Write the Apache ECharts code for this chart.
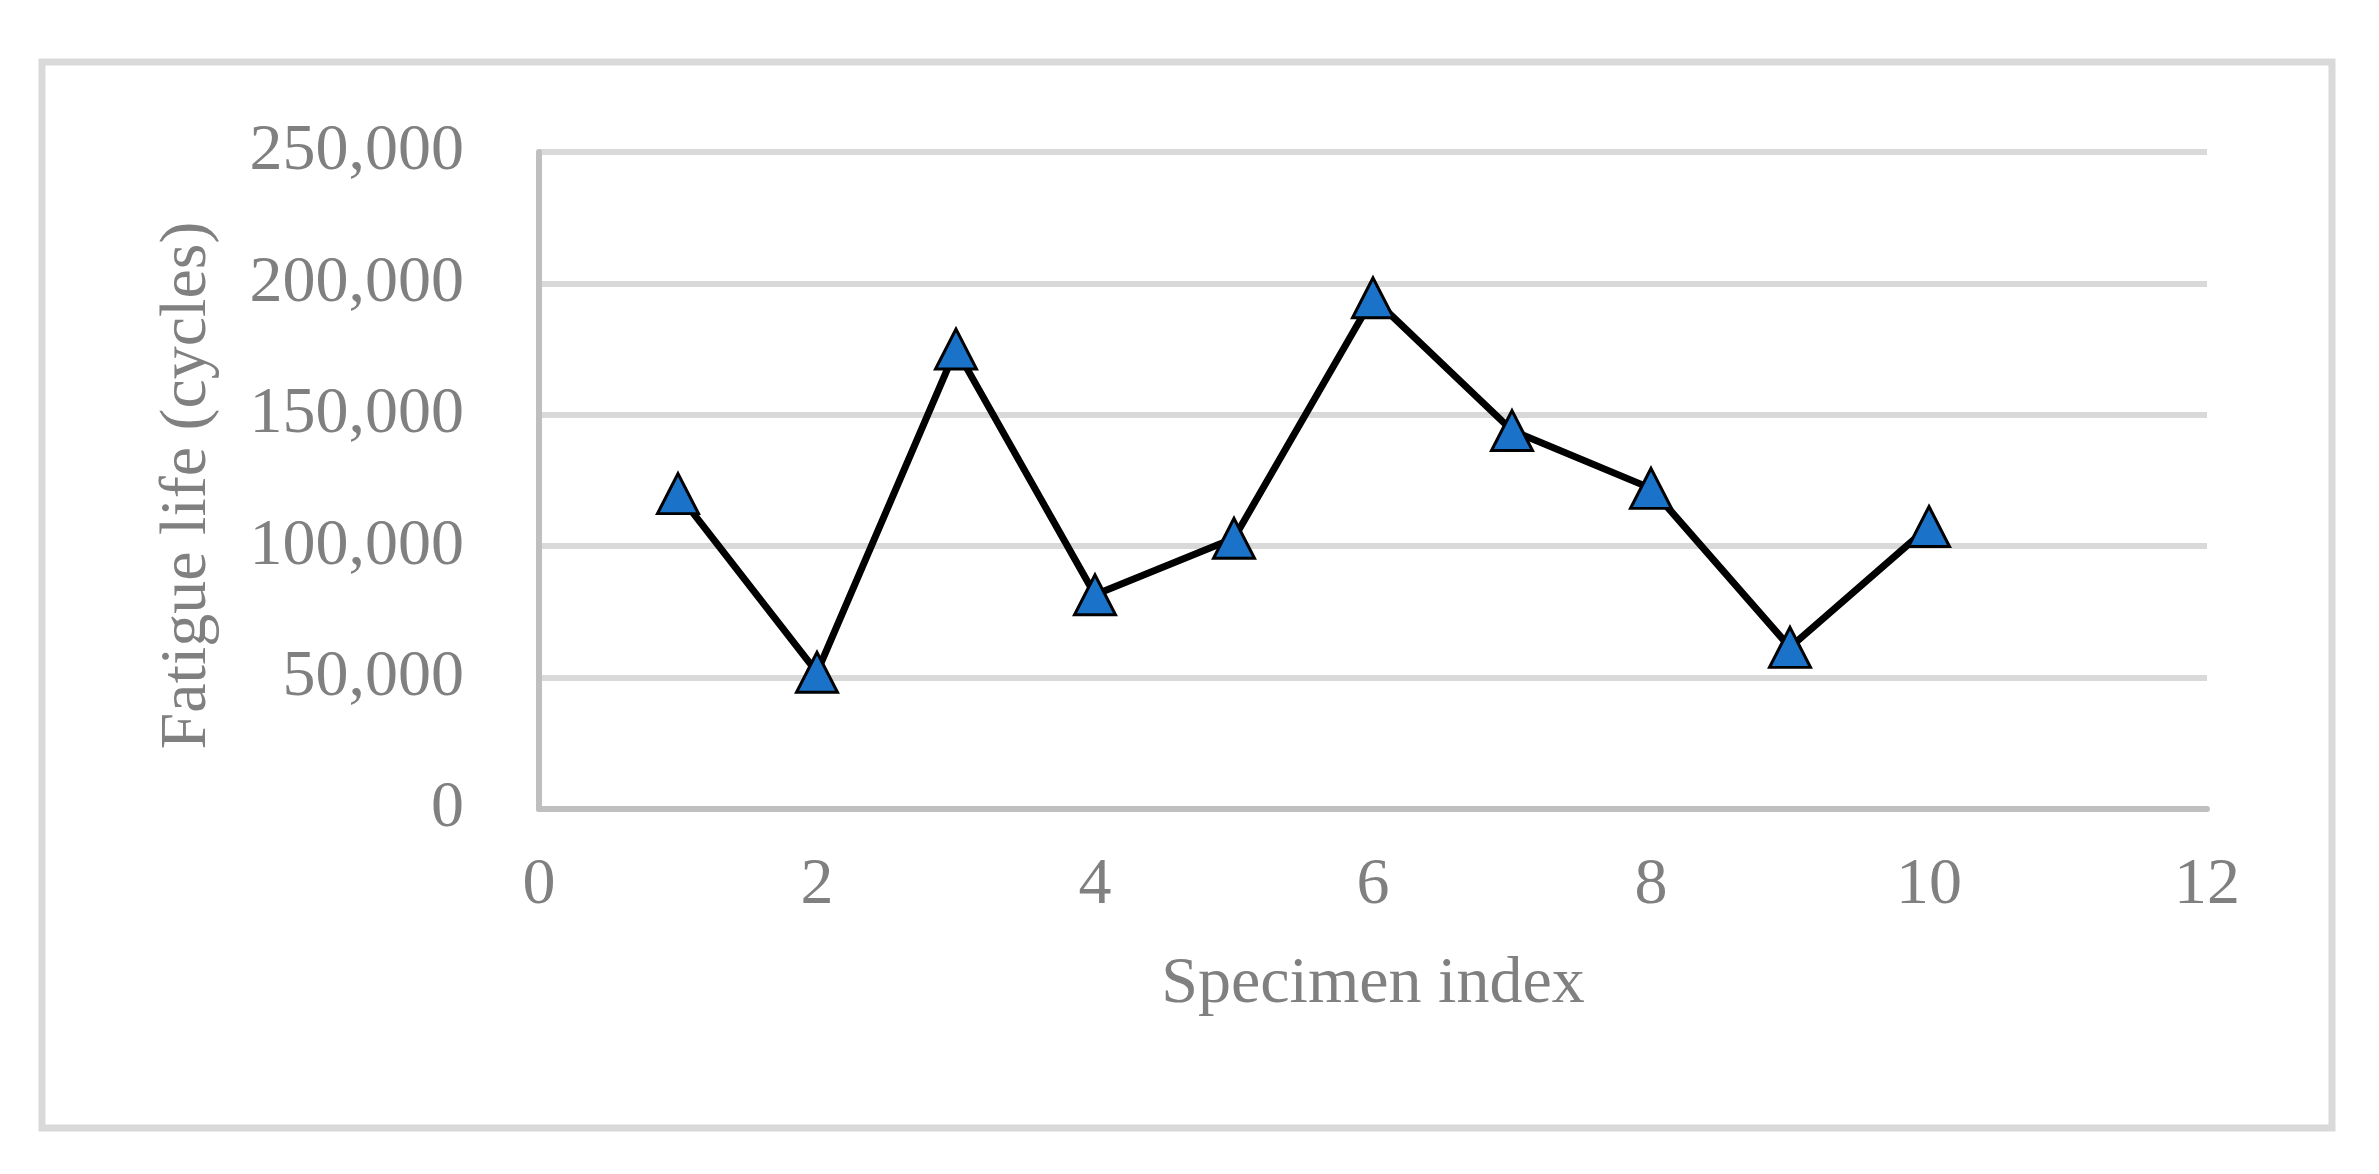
<!DOCTYPE html>
<html>
<head>
<meta charset="utf-8">
<script src="https://cdn.jsdelivr.net/npm/echarts@6/dist/echarts.min.js"></script>
<style>
  html, body { margin: 0; padding: 0; background: #fff; }
  #chart { width: 2379px; height: 1174px; }
</style>
</head>
<body>
<div id="chart"></div>
<script>
// specimen index and fatigue life
var specimenIndex = [1, 2, 3, 4, 5, 6, 7, 8, 9, 10];
var fatigueLife = [120000, 52000, 175000, 81500, 103000, 194500, 144000, 122000, 61500, 107500];

var xTicks = [0, 2, 4, 6, 8, 10, 12];
var yTicks = [0, 50000, 100000, 150000, 200000, 250000];

var fontName = '"Liberation Serif", "Times New Roman", serif';
var textGray = '#808080';

window.onload = function () {
	var chart = echarts.init(document.getElementById('chart'), null, { renderer: 'canvas' });

	var points = [];
	for (var i = 0; i < specimenIndex.length; i++) {
		points.push([specimenIndex[i], fatigueLife[i]]);
	}

	var option = {
		animation: false,
		backgroundColor: '#ffffff',
		// chart area frame
		graphic: [{
			type: 'rect',
			shape: { x: 42, y: 62, width: 2290, height: 1066 },
			style: { fill: 'none', stroke: '#d9d9d9', lineWidth: 7 },
			z: 0
		}],
		grid: {
			left: 539,
			right: 172,
			top: 152,
			bottom: 365,
			containLabel: false,
			outerBoundsMode: 'none'
		},
		xAxis: {
			type: 'value',
			min: xTicks[0],
			max: xTicks[xTicks.length - 1],
			interval: 2,
			name: 'Specimen index',
			nameLocation: 'middle',
			nameGap: 143,
			nameTextStyle: { fontFamily: fontName, fontSize: 66, color: textGray },
			axisLine: { show: true, lineStyle: { color: '#bfbfbf', width: 6 } },
			axisTick: { show: false },
			splitLine: { show: false },
			axisLabel: { fontFamily: fontName, fontSize: 66, color: textGray, margin: 44 }
		},
		yAxis: {
			type: 'value',
			min: yTicks[0],
			max: yTicks[yTicks.length - 1],
			interval: 50000,
			name: 'Fatigue life (cycles)',
			nameLocation: 'middle',
			nameGap: 318,
			nameTextStyle: { fontFamily: fontName, fontSize: 66, color: textGray, padding: [0, 10, 0, 0] },
			axisLine: { show: true, lineStyle: { color: '#bfbfbf', width: 6 } },
			axisTick: { show: false },
			splitLine: { show: true, lineStyle: { color: '#d9d9d9', width: 6 } },
			axisLabel: {
				fontFamily: fontName, fontSize: 66, color: textGray, margin: 75,
				formatter: function (v) { return v.toLocaleString('en-US'); }
			}
		},
		series: [{
			type: 'line',
			data: points,
			symbol: 'triangle',
			symbolSize: [41, 40],
			lineStyle: { color: '#000000', width: 7 },
			itemStyle: { color: '#1A73C8', borderColor: '#000000', borderWidth: 3 },
			z: 3
		}]
	};

	chart.setOption(option);
};
</script>
</body>
</html>
